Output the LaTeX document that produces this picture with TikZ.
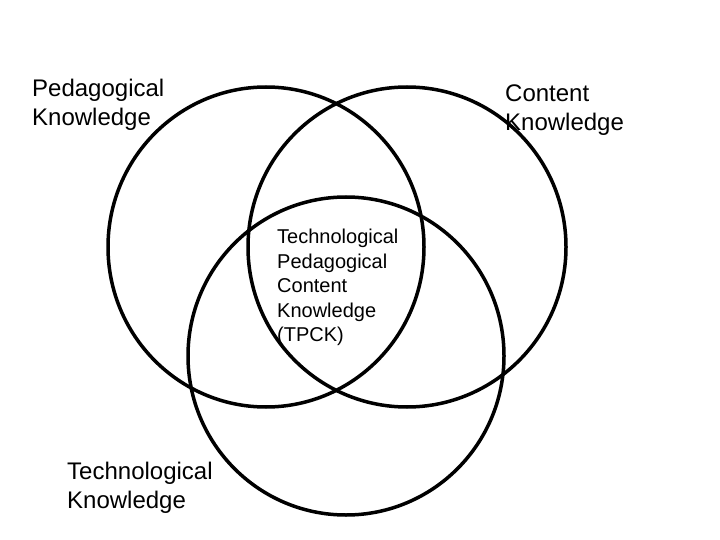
\documentclass[tikz,border=0pt]{standalone}
\usepackage{fontspec}
\setmainfont{Liberation Sans}
\begin{document}
\begin{tikzpicture}[x=1pt,y=-1pt,
  ring/.style={draw=black,line width=3.5pt},
  outer/.style={font=\fontsize{24}{29}\selectfont,align=left,anchor=north west,inner sep=0pt},
  inner/.style={font=\fontsize{20}{24.5}\selectfont,align=left,anchor=north west,inner sep=0pt}]
\useasboundingbox (0,0) rectangle (720,540);
\fill[white] (0,0) rectangle (720,540);
\draw[ring] (266,247) ellipse [x radius=158, y radius=160];
\draw[ring] (407,247) ellipse [x radius=159, y radius=160];
\draw[ring] (346,356) ellipse [x radius=158, y radius=159];
\node[outer] (pk) at (32,79) {Pedagogical\\Knowledge};
\node[outer] (ck) at (505,85) {Content\\Knowledge};
\node[outer] (tk) at (67,462) {Technological\\Knowledge};
\node[inner] (tpck) at (277,229) {Technological\\Pedagogical\\Content\\Knowledge\\(TPCK)};
\end{tikzpicture}
\end{document}
